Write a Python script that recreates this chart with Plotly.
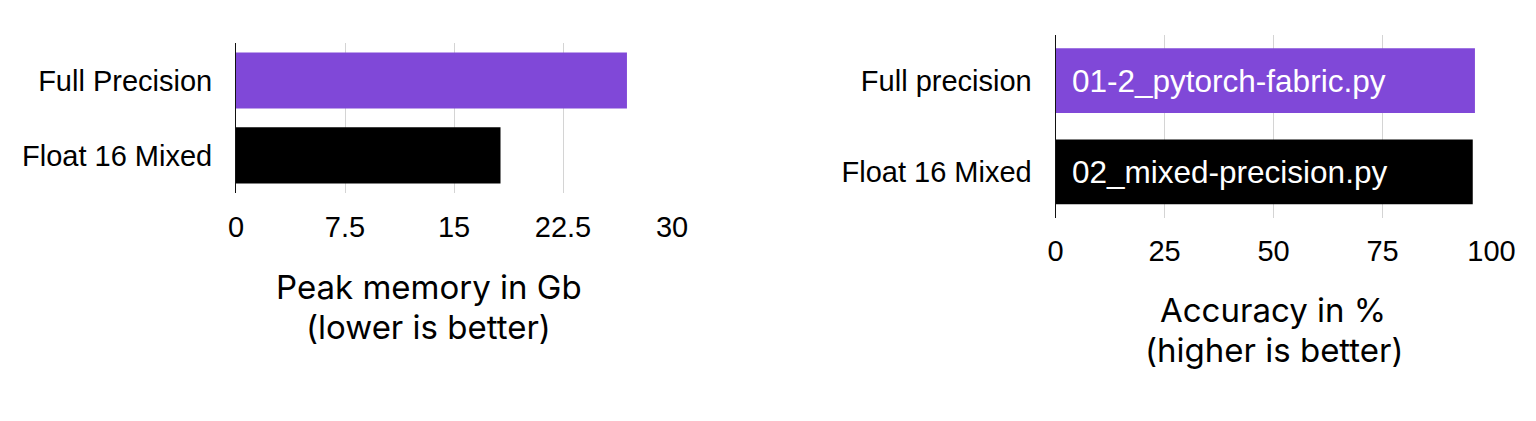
import plotly.graph_objects as go

W, H = 1536, 421
# the page puts the plot div a few px in from the corner, so pull positions back
OFF_X, OFF_Y = 8, 8

categories = ["Full Precision", "Float 16 Mixed"]
memory_gb = [26.9, 18.2]

acc_categories = ["Full precision", "Float 16 Mixed"]
accuracy_pct = [96.2, 95.7]
scripts = ["01-2_pytorch-fabric.py", "02_mixed-precision.py"]

bar_colors = ["#8048D8", "#000000"]

mem_ticks = [0, 7.5, 15, 22.5, 30]
mem_ticktext = ["0", "7.5", "15", "22.5", "30"]
acc_ticks = [0, 25, 50, 75, 100]

TICK_FONT = dict(family="Liberation Sans, Arial", size=29, color="black")
TITLE_FONT = dict(family="Inter", size=33, color="black")


def px_x(p):
    return (p - OFF_X) / W


def px_y(p):
    return 1 - (p - OFF_Y) / H


fig = go.Figure()

fig.add_trace(go.Bar(
    x=memory_gb, y=categories, orientation="h",
    marker=dict(color=bar_colors, line_width=0),
    width=0.75, xaxis="x", yaxis="y", showlegend=False,
))

fig.add_trace(go.Bar(
    x=accuracy_pct, y=acc_categories, orientation="h",
    marker=dict(color=bar_colors, line_width=0),
    width=0.71, xaxis="x2", yaxis="y2", showlegend=False,
))

# script names written inside the accuracy bars
for cat, name in zip(acc_categories, scripts):
    fig.add_annotation(
        x=0, y=cat, xref="x2", yref="y2", text=name, showarrow=False,
        xanchor="left", xshift=14,
        font=dict(family="Liberation Sans, Arial", size=31.5, color="white"),
    )

common_x = dict(
    showgrid=True, gridcolor="#d4d4d4", gridwidth=1, zeroline=False,
    showline=False, ticks="outside", ticklen=8, tickcolor="rgba(0,0,0,0)",
    tickfont=TICK_FONT, fixedrange=True, automargin=False,
)
common_y = dict(
    showgrid=False, zeroline=False, showline=True, linecolor="#111111", linewidth=1,
    ticks="outside", ticklen=17, tickcolor="rgba(0,0,0,0)", tickfont=TICK_FONT,
    autorange="reversed", automargin=False,
)

fig.update_layout(
    width=W, height=H,
    margin=dict(l=0, r=0, t=0, b=0, pad=0, autoexpand=False),
    paper_bgcolor="white", plot_bgcolor="white",
    xaxis=dict(domain=[px_x(236), px_x(672)], range=[0, 30], tickvals=mem_ticks,
               ticktext=mem_ticktext, anchor="y", **common_x),
    yaxis=dict(domain=[px_y(193), px_y(43)], anchor="x", **common_y),
    xaxis2=dict(domain=[px_x(1055.5), px_x(1491.5)], range=[0, 100], tickvals=acc_ticks,
                anchor="y2", **common_x),
    yaxis2=dict(domain=[px_y(217.5), px_y(35)], anchor="x2", **common_y),
)

titles = [
    ("Peak memory in Gb", 429, 287),
    ("(lower is better)", 428, 327),
    ("Accuracy in %", 1273, 310),
    ("(higher is better)", 1274, 350),
]
for text, cx, cy in titles:
    fig.add_annotation(
        x=px_x(cx), y=px_y(cy), xref="paper", yref="paper", showarrow=False,
        text=text, font=TITLE_FONT, xanchor="center", yanchor="middle",
    )

fig.write_html("out.html")
